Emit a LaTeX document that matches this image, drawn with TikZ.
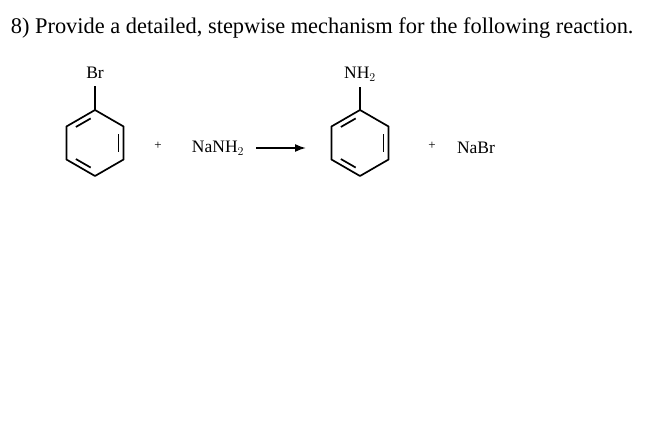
\documentclass[tikz,border=0pt]{standalone}
\usepackage{fontspec}
\setmainfont{Liberation Serif}
\usetikzlibrary{calc,arrows.meta}
\begin{document}
\begin{tikzpicture}[x=1pt,y=-1pt,line width=1.7pt,
  lbl/.style={inner sep=0pt,font=\fontsize{17.5}{19}\selectfont},
  pl/.style={inner sep=0pt,font=\fontsize{13}{15}\selectfont}]
\useasboundingbox (0,0) rectangle (652,430);
\node[anchor=west,inner sep=0pt,font=\fontsize{22.4}{26}\selectfont] (title) at (10,28) {8) Provide a detailed, stepwise mechanism for the following reaction.};
\foreach \cx/\nm in {95/a,360/b}{
  \begin{scope}[shift={(\cx,143)}]
    \coordinate (\nm c) at (0,0);
    \foreach \i in {0,...,5}{ \coordinate (\nm\i) at ({90+60*\i}:-33); }
    \draw[line join=round] (\nm0)--(\nm1)--(\nm2)--(\nm3)--(\nm4)--(\nm5)--cycle;
    \foreach \i/\j in {1/2,3/4,5/0}{
      \draw[shorten >=5pt,shorten <=5pt] ($(\nm\i)!0.18!(\nm c)$) -- ($(\nm\j)!0.18!(\nm c)$);}
  \end{scope}}
\node[lbl] (br) at (95,73) {Br};
\node[lbl] (nh2) at (360,74) {NH$_2$};
\coordinate (bt1) at (95,86);
\coordinate (bt2) at (360,87);
\draw (a0) -- (bt1);
\draw (b0) -- (bt2);
\node[pl] (p1) at (158,146) {+};
\node[lbl] (nanh2) at (218,148) {NaNH$_2$};
\coordinate (arrs) at (256,148);
\coordinate (arre) at (306,148);
\draw[-{Latex[length=11pt,width=8pt]}] (arrs) -- (arre);
\node[pl] (p2) at (432,146) {+};
\node[lbl] (nabr) at (476,148) {NaBr};
\end{tikzpicture}
\end{document}
